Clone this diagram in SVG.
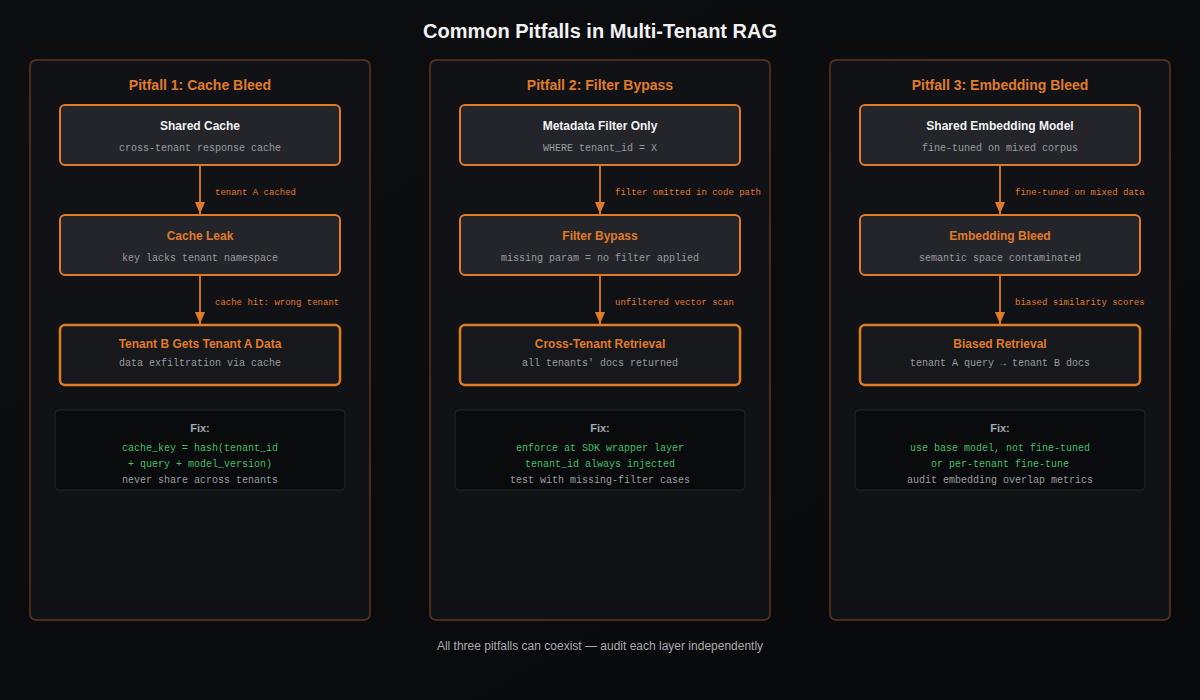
<svg xmlns="http://www.w3.org/2000/svg" width="1200" height="700" viewBox="0 0 1200 700">
<defs>
<linearGradient id="bg" x1="0" y1="0" x2="1" y2="1"><stop offset="0" stop-color="#0d0e10"/><stop offset="1" stop-color="#08090a"/></linearGradient>
<marker id="ar" markerWidth="12" markerHeight="10" refX="12" refY="5" orient="auto" markerUnits="userSpaceOnUse" viewBox="0 0 12 10"><path d="M0,0 L12,5 L0,10 z" fill="#e07b2a"/></marker>
<style>
.panel{fill:#111216;stroke:#5c3a1c;stroke-width:1.5}
.box{fill:#23252a;stroke:#e07b2a;stroke-width:2}
.end{fill:#17181b;stroke:#e07b2a;stroke-width:2.5}
.fix{fill:#0a0b0c;stroke:#25272b;stroke-width:1}
.sans{font-family:"Liberation Sans",Arial,sans-serif}
.mono{font-family:"Liberation Mono","DejaVu Sans Mono",monospace}
.ptitle{font-size:14px;font-weight:bold;fill:#e07b2a}
.h{font-size:12px;font-weight:bold;fill:#f2f2f2}
.ho{font-size:12px;font-weight:bold;fill:#e07b2a}
.sub{font-size:10px;fill:#9a9ca0}
.el{font-size:9px;fill:#e07b2a}
.g{font-size:10px;fill:#3fbf6a}
.fx{font-size:11px;font-weight:bold;fill:#a8aaae}
.conn{stroke:#e07b2a;stroke-width:1.8;fill:none}
</style>
</defs>
<rect width="1200" height="700" fill="url(#bg)"/>
<text x="600" y="38" text-anchor="middle" class="sans" font-size="20" font-weight="bold" fill="#f2f2f2">Common Pitfalls in Multi-Tenant RAG</text>

<g id="panel1">
<rect class="panel" x="30" y="60" width="340" height="560" rx="6"/>
<text x="200" y="90" text-anchor="middle" class="sans ptitle">Pitfall 1: Cache Bleed</text>
</g>
<g id="p1n1"><rect class="box" x="60" y="105" width="280" height="60" rx="5"/><text x="200" y="130" text-anchor="middle" class="sans h">Shared Cache</text><text x="200" y="151" text-anchor="middle" class="mono sub">cross-tenant response cache</text></g>
<g id="p1n2"><rect class="box" x="60" y="215" width="280" height="60" rx="5"/><text x="200" y="240" text-anchor="middle" class="sans ho">Cache Leak</text><text x="200" y="261" text-anchor="middle" class="mono sub">key lacks tenant namespace</text></g>
<g id="p1n3"><rect class="end" x="60" y="325" width="280" height="60" rx="5"/><text x="200" y="348" text-anchor="middle" class="sans ho">Tenant B Gets Tenant A Data</text><text x="200" y="366" text-anchor="middle" class="mono sub">data exfiltration via cache</text></g>
<g id="p1fix"><rect class="fix" x="55" y="410" width="290" height="80" rx="4"/><text x="200" y="432" text-anchor="middle" class="sans fx">Fix:</text><text x="200" y="451" text-anchor="middle" class="mono g">cache_key = hash(tenant_id</text><text x="200" y="467" text-anchor="middle" class="mono g">+ query + model_version)</text><text x="200" y="483" text-anchor="middle" class="mono sub">never share across tenants</text></g>

<g id="panel2">
<rect class="panel" x="430" y="60" width="340" height="560" rx="6"/>
<text x="600" y="90" text-anchor="middle" class="sans ptitle">Pitfall 2: Filter Bypass</text>
</g>
<g id="p2n1"><rect class="box" x="460" y="105" width="280" height="60" rx="5"/><text x="600" y="130" text-anchor="middle" class="sans h">Metadata Filter Only</text><text x="600" y="151" text-anchor="middle" class="mono sub">WHERE tenant_id = X</text></g>
<g id="p2n2"><rect class="box" x="460" y="215" width="280" height="60" rx="5"/><text x="600" y="240" text-anchor="middle" class="sans ho">Filter Bypass</text><text x="600" y="261" text-anchor="middle" class="mono sub">missing param = no filter applied</text></g>
<g id="p2n3"><rect class="end" x="460" y="325" width="280" height="60" rx="5"/><text x="600" y="348" text-anchor="middle" class="sans ho">Cross-Tenant Retrieval</text><text x="600" y="366" text-anchor="middle" class="mono sub">all tenants' docs returned</text></g>
<g id="p2fix"><rect class="fix" x="455" y="410" width="290" height="80" rx="4"/><text x="600" y="432" text-anchor="middle" class="sans fx">Fix:</text><text x="600" y="451" text-anchor="middle" class="mono g">enforce at SDK wrapper layer</text><text x="600" y="467" text-anchor="middle" class="mono g">tenant_id always injected</text><text x="600" y="483" text-anchor="middle" class="mono sub">test with missing-filter cases</text></g>

<g id="panel3">
<rect class="panel" x="830" y="60" width="340" height="560" rx="6"/>
<text x="1000" y="90" text-anchor="middle" class="sans ptitle">Pitfall 3: Embedding Bleed</text>
</g>
<g id="p3n1"><rect class="box" x="860" y="105" width="280" height="60" rx="5"/><text x="1000" y="130" text-anchor="middle" class="sans h">Shared Embedding Model</text><text x="1000" y="151" text-anchor="middle" class="mono sub">fine-tuned on mixed corpus</text></g>
<g id="p3n2"><rect class="box" x="860" y="215" width="280" height="60" rx="5"/><text x="1000" y="240" text-anchor="middle" class="sans ho">Embedding Bleed</text><text x="1000" y="261" text-anchor="middle" class="mono sub">semantic space contaminated</text></g>
<g id="p3n3"><rect class="end" x="860" y="325" width="280" height="60" rx="5"/><text x="1000" y="348" text-anchor="middle" class="sans ho">Biased Retrieval</text><text x="1000" y="366" text-anchor="middle" class="mono sub">tenant A query → tenant B docs</text></g>
<g id="p3fix"><rect class="fix" x="855" y="410" width="290" height="80" rx="4"/><text x="1000" y="432" text-anchor="middle" class="sans fx">Fix:</text><text x="1000" y="451" text-anchor="middle" class="mono g">use base model, not fine-tuned</text><text x="1000" y="467" text-anchor="middle" class="mono g">or per-tenant fine-tune</text><text x="1000" y="483" text-anchor="middle" class="mono sub">audit embedding overlap metrics</text></g>

<g id="connectors">
<line class="conn" x1="200" y1="165" x2="200" y2="214" marker-end="url(#ar)"/>
<line class="conn" x1="200" y1="275" x2="200" y2="324" marker-end="url(#ar)"/>
<line class="conn" x1="600" y1="165" x2="600" y2="214" marker-end="url(#ar)"/>
<line class="conn" x1="600" y1="275" x2="600" y2="324" marker-end="url(#ar)"/>
<line class="conn" x1="1000" y1="165" x2="1000" y2="214" marker-end="url(#ar)"/>
<line class="conn" x1="1000" y1="275" x2="1000" y2="324" marker-end="url(#ar)"/>
<text x="215" y="195" class="mono el">tenant A cached</text>
<text x="215" y="305" class="mono el">cache hit: wrong tenant</text>
<text x="615" y="195" class="mono el">filter omitted in code path</text>
<text x="615" y="305" class="mono el">unfiltered vector scan</text>
<text x="1015" y="195" class="mono el">fine-tuned on mixed data</text>
<text x="1015" y="305" class="mono el">biased similarity scores</text>
</g>
<text x="600" y="650" text-anchor="middle" class="sans" font-size="12" fill="#a8aaae">All three pitfalls can coexist — audit each layer independently</text>
</svg>
